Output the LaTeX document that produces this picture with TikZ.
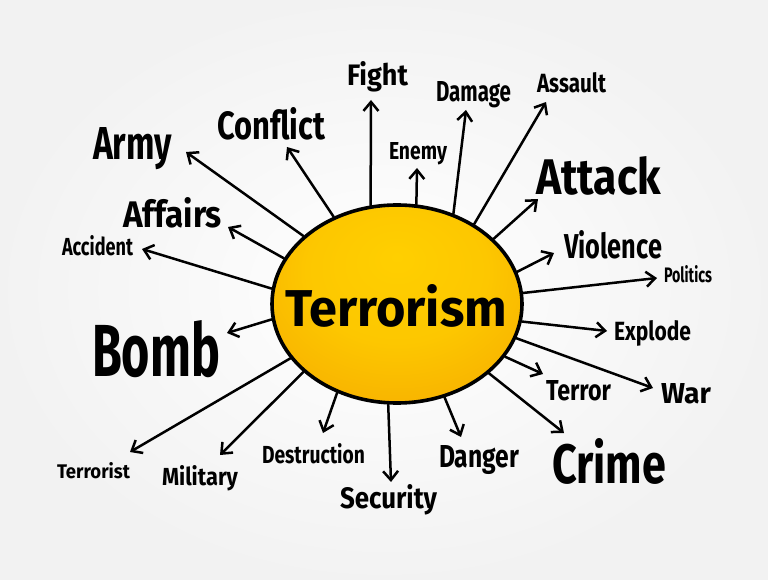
\documentclass[tikz,border=0pt]{standalone}
\usepackage{fontspec}
\setmainfont{Fira Sans}
\usepackage{graphicx}
\usetikzlibrary{shapes.geometric,arrows.meta}
\definecolor{yelc}{RGB}{255,207,0}
\definecolor{orac}{RGB}{245,168,0}
\pgfdeclareradialshading{hubshade}{\pgfpoint{0bp}{12bp}}{color(0bp)=(yelc); color(18bp)=(yelc!80!orac); color(40bp)=(orac); color(60bp)=(orac)}
\newcommand{\wrd}[3]{\resizebox{#1pt}{#2pt}{\bfseries #3}}
\begin{document}
\begin{tikzpicture}[x=1pt,y=-1pt,
  word/.style={anchor=base west,inner sep=0pt,outer sep=0pt,text=black},
  arr/.style={line width=2.5pt,line cap=round,-{Straight Barb[length=9pt,width=15pt]}},
  hub/.style={ellipse,draw=black,line width=3.6pt,minimum width=250pt,minimum height=198pt,inner sep=0pt,shading=hubshade}
]
\shade[inner color=white,outer color=black!5] (0,0) rectangle (768,580);
\useasboundingbox (0,0) rectangle (768,580);

% central hub
\node[hub] (c) at (397,304) {};
\node[word] (wTerrorism) at (285,326) {\wrd{222}{42}{Terrorism}};

% words
\node[word] (wFight) at (347,86) {\wrd{61}{24}{Fight}};
\node[word] (wConflict) at (217,140) {\wrd{108}{32}{Conflict}};
\node[word] (wArmy) at (93,160) {\wrd{79}{32}{Army}};
\node[word] (wAffairs) at (123,227) {\wrd{99}{30}{Affairs}};
\node[word] (wAccident) at (62,255) {\wrd{71}{20}{Accident}};
\node[word] (wBomb) at (92,376) {\wrd{128}{56}{Bomb}};
\node[word] (wTerrorist) at (57,478) {\wrd{73}{16}{Terrorist}};
\node[word] (wMilitary) at (162,485) {\wrd{76}{20}{Military}};
\node[word] (wDestruction) at (262,463) {\wrd{103}{20}{Destruction}};
\node[word] (wSecurity) at (340,508) {\wrd{97}{24}{Security}};
\node[word] (wDanger) at (439,467) {\wrd{80}{22}{Danger}};
\node[word] (wCrime) at (552,483) {\wrd{114}{45}{Crime}};
\node[word] (wTerror) at (546,400) {\wrd{65}{20}{Terror}};
\node[word] (wWar) at (661,403) {\wrd{50}{20}{War}};
\node[word] (wExplode) at (614,340) {\wrd{77}{20}{Explode}};
\node[word] (wPolitics) at (664,282) {\wrd{48}{17}{Politics}};
\node[word] (wViolence) at (564,258) {\wrd{98}{28}{Violence}};
\node[word] (wAttack) at (536,195) {\wrd{125}{38}{Attack}};
\node[word] (wAssault) at (537,93) {\wrd{69}{20}{Assault}};
\node[word] (wDamage) at (436,102) {\wrd{75}{20}{Damage}};
\node[word] (wEnemy) at (389,160) {\wrd{58}{17}{Enemy}};

% arrow tips
\coordinate (tFight) at (371,100);
\coordinate (tConflict) at (287,147);
\coordinate (tArmy) at (186,152);
\coordinate (tAffairs) at (228,227);
\coordinate (tAccident) at (142,249);
\coordinate (tBomb) at (227,333);
\coordinate (tTerrorist) at (130,452);
\coordinate (tMilitary) at (220,455);
\coordinate (tDestruction) at (323,433);
\coordinate (tSecurity) at (391,482);
\coordinate (tDanger) at (461,437);
\coordinate (tCrime) at (564,433);
\coordinate (tTerror) at (543,374);
\coordinate (tWar) at (653,388);
\coordinate (tExplode) at (607,331);
\coordinate (tPolitics) at (657,278);
\coordinate (tViolence) at (554,253);
\coordinate (tAttack) at (538,199);
\coordinate (tAssault) at (546,102);
\coordinate (tDamage) at (466,110);
\coordinate (tEnemy) at (417,168);

% connectors
\draw[arr] (c.105.8) -- (tFight);
\draw[arr] (c.126.1) -- (tConflict);
\draw[arr] (c.144.8) -- (tArmy);
\draw[arr] (c.158.2) -- (tAffairs);
\draw[arr] (c.173.6) -- (tAccident);
\draw[arr] (c.187.3) -- (tBomb);
\draw[arr] (c.207.4) -- (tTerrorist);
\draw[arr] (c.216.2) -- (tMilitary);
\draw[arr] (c.236.3) -- (tDestruction);
\draw[arr] (c.265.4) -- (tSecurity);
\draw[arr] (c.297.3) -- (tDanger);
\draw[arr] (c.323.5) -- (tCrime);
\draw[arr] (c.334.1) -- (tTerror);
\draw[arr] (c.344.2) -- (tWar);
\draw[arr] (c.352.5) -- (tExplode);
\draw[arr] (c.5.1) -- (tPolitics);
\draw[arr] (c.15.8) -- (tViolence);
\draw[arr] (c.34.9) -- (tAttack);
\draw[arr] (c.46.1) -- (tAssault);
\draw[arr] (c.58.2) -- (tDamage);
\draw[arr] (c.79.1) -- (tEnemy);
\end{tikzpicture}
\end{document}
